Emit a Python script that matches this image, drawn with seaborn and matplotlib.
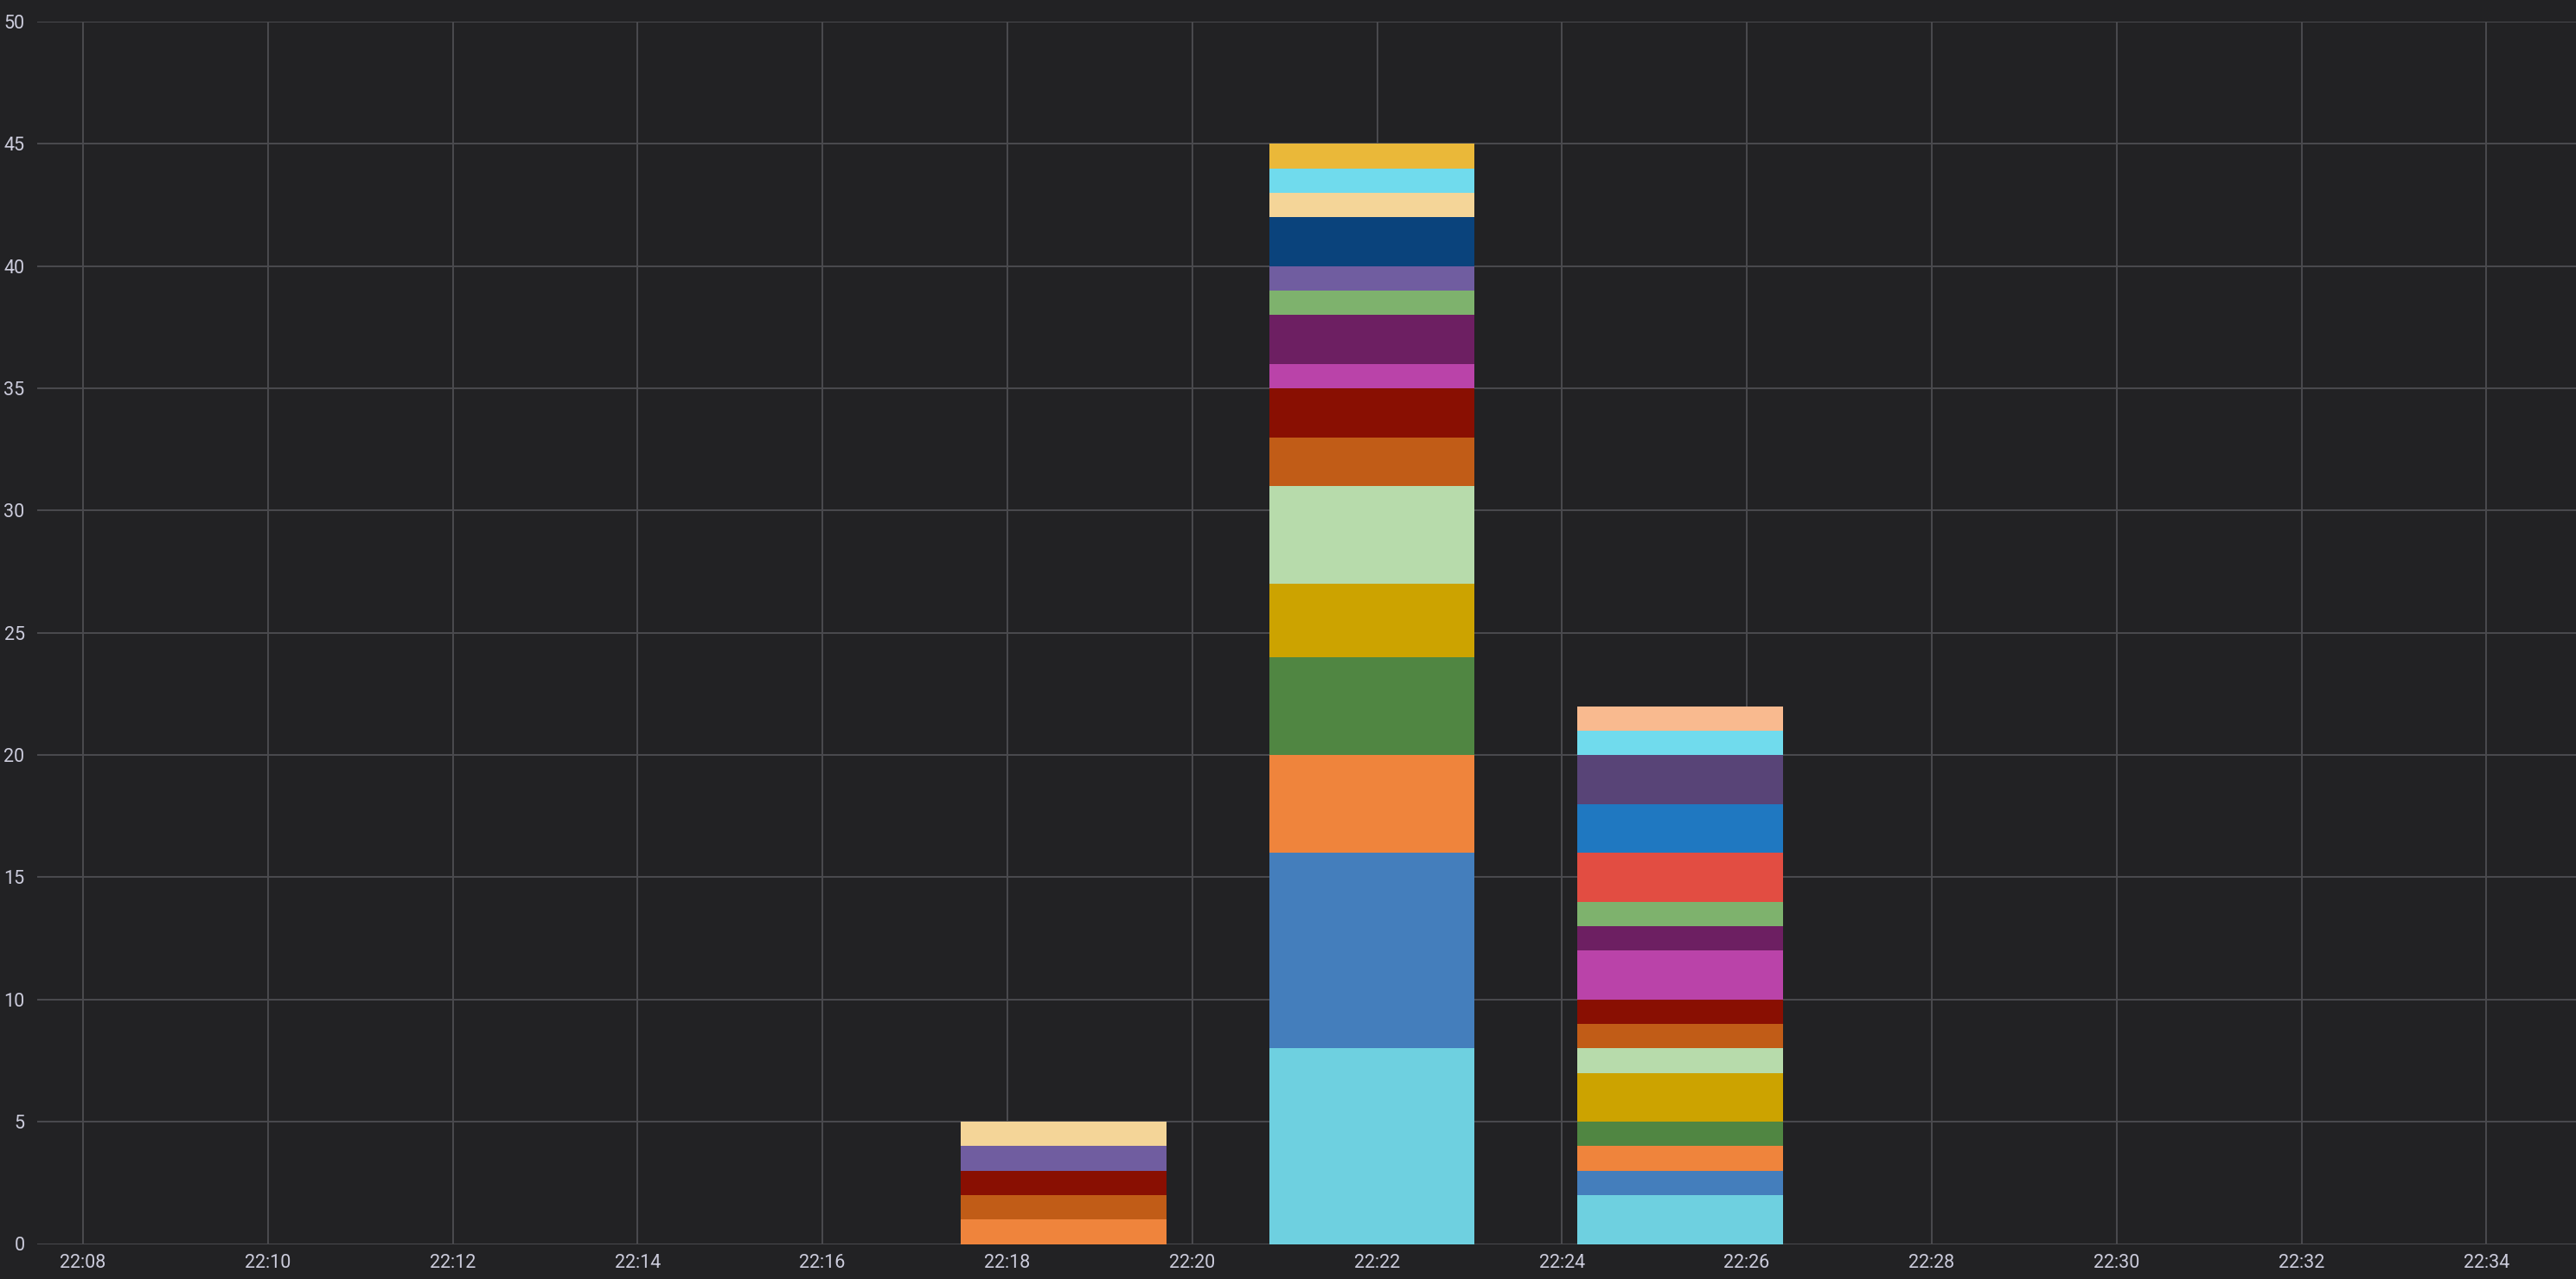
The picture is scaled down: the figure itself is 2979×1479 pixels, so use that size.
import pandas as pd
import numpy as np
import matplotlib
matplotlib.use('Agg')
import matplotlib.pyplot as plt
import seaborn as sns
from matplotlib.ticker import FuncFormatter, MultipleLocator

# bar start times (each bucket is drawn 133 s wide)
bar_starts = ['22:17:30', '22:20:50', '22:24:10']
bar_width_sec = 133.3

# stacked segments, bottom to top
series_1 = ['orange', 'dark_orange', 'dark_red', 'purple', 'light_yellow']
counts_1 = [1, 1, 1, 1, 1]

series_2 = ['cyan', 'blue', 'orange', 'dark_green', 'mustard', 'light_green',
            'dark_orange', 'dark_red', 'magenta', 'dark_purple', 'green',
            'purple', 'navy', 'light_yellow', 'bright_cyan', 'yellow']
counts_2 = [8, 8, 4, 4, 3, 4, 2, 2, 1, 2, 1, 1, 2, 1, 1, 1]

series_3 = ['cyan', 'blue', 'orange', 'dark_green', 'mustard', 'light_green',
            'dark_orange', 'dark_red', 'magenta', 'dark_purple', 'green',
            'red', 'blue_2', 'purple_2', 'bright_cyan', 'peach']
counts_3 = [2, 1, 1, 1, 2, 1, 1, 1, 2, 1, 1, 2, 2, 2, 1, 1]

y_ticks = [0, 5, 10, 15, 20, 25, 30, 35, 40, 45, 50]

palette = {
    'cyan': '#6ED0E0', 'blue': '#447EBC', 'orange': '#EF843C',
    'dark_green': '#508642', 'mustard': '#CCA300', 'light_green': '#B7DBAB',
    'dark_orange': '#C15C17', 'dark_red': '#890F02', 'magenta': '#BA43A9',
    'dark_purple': '#6D1F62', 'green': '#7EB26D', 'purple': '#705DA0',
    'navy': '#0A437C', 'light_yellow': '#F4D598', 'bright_cyan': '#70DBED',
    'yellow': '#EAB839', 'red': '#E24D42', 'blue_2': '#1F78C1',
    'purple_2': '#584477', 'peach': '#F9BA8F',
}


def to_minutes(t: str) -> float:
    h, m, s = (int(v) for v in t.split(':'))
    return (h - 22) * 60 + m + s / 60


rows = []
for start, names, counts in zip(bar_starts, [series_1, series_2, series_3],
                                [counts_1, counts_2, counts_3]):
    for name, c in zip(names, counts):
        rows.append({'start': start, 'series': name, 'count': c})
df = pd.DataFrame(rows)
df['x'] = df['start'].map(to_minutes)
df['bottom'] = df.groupby('start')['count'].cumsum() - df['count']

bg = '#222224'
text_col = '#CCCCDC'
grid_col = '#4B4B4F'

sns.set_theme(style='darkgrid', rc={
    'figure.facecolor': bg,
    'axes.facecolor': bg,
    'grid.color': grid_col,
    'grid.linewidth': 1.4,
    'axes.edgecolor': bg,
    'xtick.color': text_col,
    'ytick.color': text_col,
})
plt.rcParams['font.family'] = ['Roboto', 'DejaVu Sans']

fig = plt.figure(figsize=(29.79, 14.79), dpi=100)
W, H = 2979, 1479
ax = fig.add_axes([42.5 / W, 40.5 / H, 1 - 42.5 / W, 1413.5 / H])

ax.bar(df['x'], df['count'], bottom=df['bottom'],
       width=bar_width_sec / 60, align='edge',
       color=[palette[s] for s in df['series']], linewidth=0, zorder=2)

ax.set_xlim(7.5, 34.97)
ax.set_ylim(0, 50)
ax.set_yticks(y_ticks)
ax.xaxis.set_major_locator(MultipleLocator(2))
ax.xaxis.set_major_formatter(FuncFormatter(
    lambda v, _: f'{22 + int(v) // 60:02d}:{int(round(v)) % 60:02d}'))
ax.tick_params(axis='both', length=0, labelsize=15.5, colors=text_col)
ax.tick_params(axis='y', pad=10)
ax.tick_params(axis='x', pad=8)
ax.grid(True, which='major')
ax.set_axisbelow(True)
for sp in ax.spines.values():
    sp.set_visible(False)
ax.set_xlabel('')
ax.set_ylabel('')

fig.savefig('out.png', dpi=100, facecolor=bg)
